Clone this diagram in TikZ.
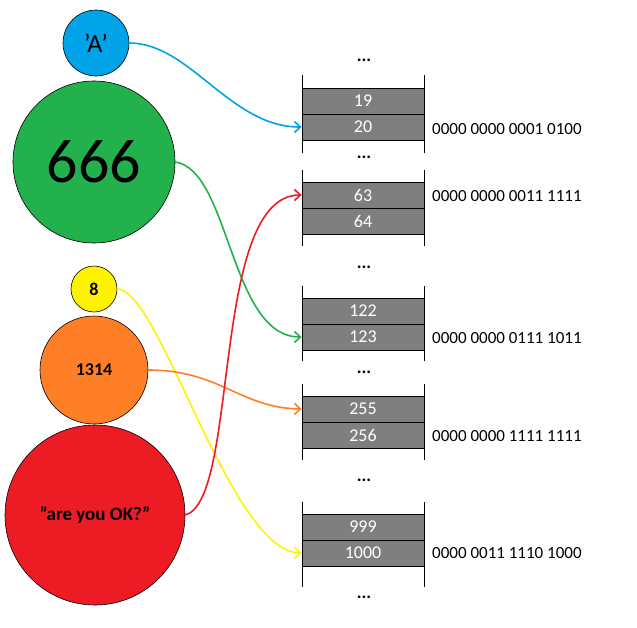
\documentclass[tikz,border=0pt]{standalone}
\usepackage{fontspec}
\setmainfont{Carlito}
\usetikzlibrary{arrows.meta}
\definecolor{cblue}{RGB}{0,162,232}
\definecolor{cgreen}{RGB}{34,177,76}
\definecolor{cyel}{RGB}{255,242,0}
\definecolor{corange}{RGB}{255,127,39}
\definecolor{cred}{RGB}{237,28,36}
\definecolor{cgray}{RGB}{127,127,127}
\begin{document}
\begin{tikzpicture}[x=1pt,y=-1pt,
  ball/.style={circle,draw=black,line width=0.6pt,inner sep=0pt},
  cell/.style={draw=black,fill=cgray,minimum width=122pt,minimum height=26pt,inner sep=0pt,text=white,font=\fontsize{18}{18}\selectfont,line width=0.8pt},
  bin/.style={anchor=west,font=\fontsize{17}{17}\selectfont,inner sep=0pt},
  dots/.style={font=\bfseries\fontsize{18}{18}\selectfont,inner sep=0pt},
  arr/.style={line width=1.6pt,-{Straight Barb[length=6pt,width=11pt]}},
  rail/.style={line width=0.8pt}]
\useasboundingbox (0,0) rectangle (637,627);
\node[ball,fill=cblue,minimum size=66pt,font=\fontsize{26}{26}\selectfont] (a) at (96,43) {'A'};
\node[ball,fill=cgreen,minimum size=162pt,font=\fontsize{62}{62}\selectfont] (b) at (94,162) {666};
\node[ball,fill=cyel,minimum size=46pt,font=\bfseries\fontsize{18}{18}\selectfont] (c) at (94,289) {8};
\node[ball,fill=corange,minimum size=108pt,font=\bfseries\fontsize{18}{18}\selectfont] (d) at (94,370) {1314};
\node[ball,fill=cred,minimum size=180pt,font=\bfseries\fontsize{19}{19}\selectfont] (e) at (95,515) {"are you OK?"};
% rails
\foreach \t/\b in {75/153,170/246,286/361,384/460,502/587}{
  \draw[rail] (302,\t) -- (302,\b); \draw[rail] (424,\t) -- (424,\b);}
\node[cell] (c19) at (363,101) {19};
\node[cell] (c20) at (363,127) {20};
\node[cell] (c63) at (363,195) {63};
\node[cell] (c64) at (363,221) {64};
\node[cell] (c122) at (363,311) {122};
\node[cell] (c123) at (363,337) {123};
\node[cell] (c255) at (363,409) {255};
\node[cell] (c256) at (363,435) {256};
\node[cell] (c999) at (363,527) {999};
\node[cell] (c1000) at (363,553) {1000};
\foreach \y/\n in {60/d1,157/d2,267/d3,372/d4,480/d5,597/d6}{\node[dots] (\n) at (364,\y) {...};}
\node[bin] (b1) at (432,129) {0000 0000 0001 0100};
\node[bin] (b2) at (432,196) {0000 0000 0011 1111};
\node[bin] (b3) at (432,338) {0000 0000 0111 1011};
\node[bin] (b4) at (432,436) {0000 0000 1111 1111};
\node[bin] (b5) at (432,553) {0000 0011 1110 1000};
\draw[arr,cblue] (a.east) .. controls (190,43) and (230,127) .. (c20.west);
\draw[arr,cgreen] (b.east) .. controls (230,170) and (230,337) .. (c123.west);
\draw[arr,cyel] (c.east) .. controls (160,289) and (230,552) .. (c1000.west);
\draw[arr,corange] (d.east) .. controls (220,370) and (240,408) .. (c255.west);
\draw[arr,cred] (e.east) .. controls (240,500) and (210,195) .. (c63.west);
\end{tikzpicture}
\end{document}
